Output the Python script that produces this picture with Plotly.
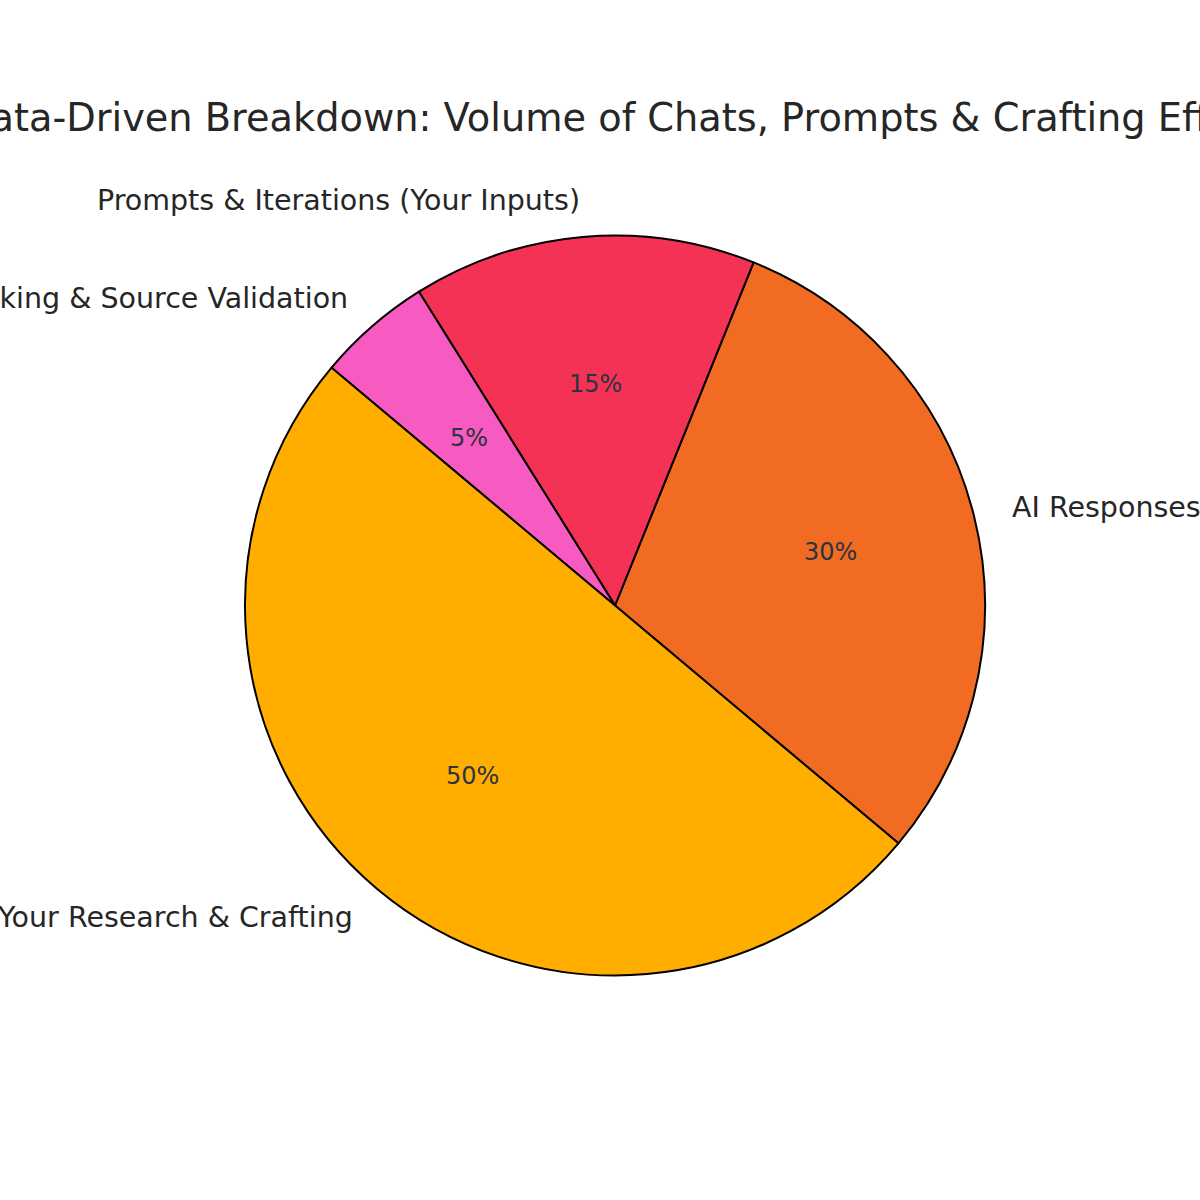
import numpy as np
import plotly.graph_objects as go

# ---- data ----
labels = ["AI Responses", "Prompts & Iterations (Your Inputs)",
          "Fact-Checking & Source Validation", "Your Research & Crafting"]
values = [30, 15, 5, 50]
colors = ["#F26B22", "#F43256", "#F75AC0", "#FFAE00"]
title = "Data-Driven Breakdown: Volume of Chats, Prompts & Crafting Effort"

# ---- layout geometry (pixels) ----
W = H = 1200
cx, cy, R = 615, 605.5, 370
start_math = -40.0  # degrees, counterclockwise like matplotlib startangle

vals = np.array(values, dtype=float)
frac = vals / vals.sum()
ends = start_math + 360 * np.cumsum(frac)
starts = ends - 360 * frac
mids = np.deg2rad((starts + ends) / 2)

# plotly (counterclockwise): rotation marks the far edge of the first slice
rotation = 90 - start_math - 360 * frac[0]

fig = go.Figure()
fig.add_trace(go.Pie(
    labels=labels, values=values, sort=False,
    direction="counterclockwise", rotation=rotation,
    marker=dict(colors=colors, line=dict(color="black", width=2)),
    textinfo="none", hoverinfo="label+percent", showlegend=False,
    domain=dict(x=[(cx - R) / W, (cx + R) / W],
                y=[1 - (cy + R) / H, 1 - (cy - R) / H]),
))

annotations = []
for lab, f, a in zip(labels, frac, mids):
    lx = cx + 1.1 * R * np.cos(a)
    ly = cy - 1.1 * R * np.sin(a)
    right = np.cos(a) > 0
    annotations.append(dict(
        x=(lx - (0 if right else -2)) / W, y=1 - ly / H,
        xref="paper", yref="paper",
        text=lab, showarrow=False,
        xanchor="left" if right else "right", yanchor="middle",
        font=dict(family="DejaVu Sans", size=28.5, color="#262626"),
    ))
    px = cx + 0.6 * R * np.cos(a)
    py = cy - 0.6 * R * np.sin(a)
    annotations.append(dict(
        x=px / W, y=1 - py / H, xref="paper", yref="paper",
        text=f"{f * 100:.0f}%", showarrow=False,
        xanchor="center", yanchor="middle",
        font=dict(family="DejaVu Sans", size=24, color="#2b3440"),
    ))

annotations.append(dict(
    x=612 / W, y=1 - 117 / H, xref="paper", yref="paper",
    text=title, showarrow=False, xanchor="center", yanchor="middle",
    font=dict(family="DejaVu Sans", size=38.3, color="#262626"),
))

fig.update_layout(
    width=W, height=H, margin=dict(l=0, r=0, t=0, b=0),
    paper_bgcolor="white", plot_bgcolor="white",
    annotations=annotations,
)

fig.write_html("out.html")
